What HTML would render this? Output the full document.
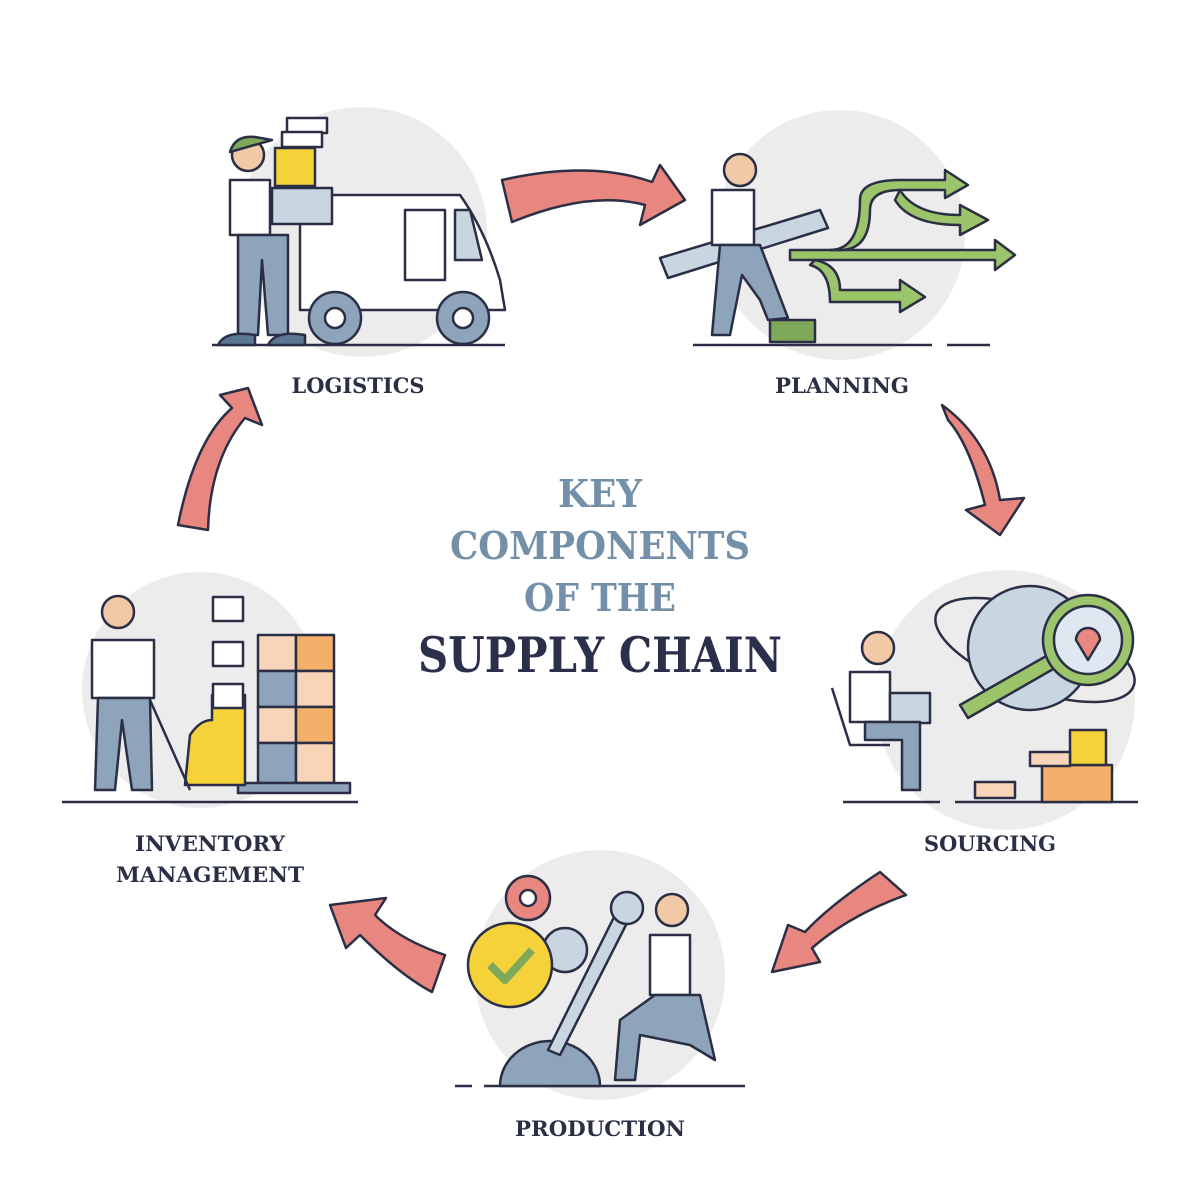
<!DOCTYPE html>
<html><head><meta charset="utf-8"><style>
html,body{margin:0;padding:0;background:#fff}
svg{display:block}
</style></head><body>
<svg width="1200" height="1200" viewBox="0 0 1200 1200" xmlns="http://www.w3.org/2000/svg" font-family="'DejaVu Serif','Liberation Serif',serif" font-weight="bold">
<rect width="1200" height="1200" fill="#fff"/>
<g fill="#ececec">
<circle cx="362" cy="232" r="125"/>
<circle cx="840" cy="235" r="125"/>
<circle cx="1005" cy="700" r="130"/>
<circle cx="600" cy="975" r="125"/>
<circle cx="200" cy="690" r="118"/>
</g>
<g fill="#e8877f" stroke="#2b2f45" stroke-width="2.5" stroke-linejoin="round">
<path d="M502,180 Q590,160 652,182 L660,165 L685,200 L640,225 L645,205 Q590,190 512,222 Z"/>
<path d="M942,405 Q990,440 1000,500 L1024,498 L1000,535 L966,510 L985,505 Q970,445 948,420 Z" />
<path d="M880,872 Q830,905 805,932 L788,925 L772,972 L820,962 L812,948 Q850,915 906,895 Z"/>
<path d="M445,955 Q400,940 375,915 L386,898 L330,905 L346,948 L360,935 Q400,975 432,992 Z"/>
<path d="M178,525 Q195,440 232,408 L220,395 L248,388 L262,425 L245,418 Q210,460 208,530 Z"/>
</g>
<g stroke="#2b2f45" stroke-width="2.5">
<line x1="212" y1="345" x2="505" y2="345"/>
<line x1="693" y1="345" x2="932" y2="345"/><line x1="947" y1="345" x2="990" y2="345"/>
<line x1="843" y1="802" x2="940" y2="802"/><line x1="955" y1="802" x2="1138" y2="802"/>
<line x1="455" y1="1086" x2="472" y2="1086"/><line x1="484" y1="1086" x2="745" y2="1086"/>
<line x1="62" y1="802" x2="358" y2="802"/>
</g>
<g stroke="#2b2f45" stroke-width="2.5" stroke-linejoin="round">
<path d="M300,310 L300,195 L460,195 Q485,230 500,280 L505,310 Z" fill="#fff"/>
<rect x="405" y="210" width="40" height="70" fill="#fff"/>
<path d="M455,210 L470,210 L482,260 L455,260 Z" fill="#c9d6e2"/>
<circle cx="335" cy="318" r="26" fill="#8ea4ba"/><circle cx="335" cy="318" r="10" fill="#fff"/>
<circle cx="463" cy="318" r="26" fill="#8ea4ba"/><circle cx="463" cy="318" r="10" fill="#fff"/>
<rect x="272" y="188" width="60" height="36" fill="#c9d6e2"/>
<rect x="275" y="148" width="40" height="38" fill="#f5d13a"/>
<rect x="287" y="118" width="40" height="15" fill="#fff"/>
<rect x="282" y="132" width="40" height="15" fill="#fff"/>
<circle cx="248" cy="155" r="16" fill="#f2c9a6"/>
<path d="M230,152 Q235,135 255,137 L272,140 Z" fill="#7ea85a"/>
<rect x="230" y="180" width="40" height="55" fill="#fff"/>
<path d="M238,235 L238,335 L258,335 L262,260 L268,335 L288,335 L288,235 Z" fill="#8ea4ba"/>
<path d="M218,345 Q225,330 255,335 L255,345 Z M268,345 Q275,330 305,335 L305,345 Z" fill="#5c7792"/>
</g>
<g stroke="#2b2f45" stroke-width="2.5" stroke-linejoin="round">
<path d="M790,250 L995,250 L995,240 L1015,255 L995,270 L995,260 L790,260 Z" fill="#9cc46a"/>
<path d="M830,250 Q860,250 860,200 Q860,180 900,180 L945,180 L945,170 L968,185 L945,198 L945,190 L900,190 Q870,190 870,210 Q870,250 840,250 Z" fill="#9cc46a"/>
<path d="M900,190 Q915,215 960,215 L960,205 L988,220 L960,235 L960,225 Q910,225 895,200 Z" fill="#9cc46a"/>
<path d="M815,260 Q840,265 840,290 L900,290 L900,280 L925,297 L900,312 L900,302 L830,302 Q830,270 810,265 Z" fill="#9cc46a"/>
<path d="M660,258 L820,210 L828,228 L668,278 Z" fill="#c9d6e2"/>
<circle cx="740" cy="170" r="16" fill="#f2c9a6"/>
<rect x="712" y="190" width="42" height="55" fill="#fff"/>
<path d="M720,245 L712,335 L730,335 L742,275 L760,300 L768,320 L788,318 L760,245 Z" fill="#8ea4ba"/>
<rect x="770" y="320" width="45" height="22" fill="#7ea85a"/>
</g>
<g stroke="#2b2f45" stroke-width="2.5" stroke-linejoin="round">
<ellipse cx="1035" cy="650" rx="105" ry="40" fill="none" transform="rotate(20 1035 650)"/>
<circle cx="1030" cy="648" r="62" fill="#c9d6e2"/>
<path d="M960,705 L1048,655 L1055,668 L968,718 Z" fill="#9cc46a"/>
<circle cx="1088" cy="640" r="45" fill="#9cc46a"/><circle cx="1088" cy="640" r="34" fill="#dfe8f0"/>
<path d="M1088,660 L1076,640 A12,12 0 1 1 1100,640 Z" fill="#e8877f"/>
<rect x="1042" y="765" width="70" height="37" fill="#f3b06a"/>
<rect x="1070" y="730" width="36" height="35" fill="#f5d13a"/>
<rect x="1030" y="752" width="40" height="14" fill="#f8d4b8"/>
<rect x="975" y="782" width="40" height="16" fill="#f8d4b8"/>
<circle cx="878" cy="648" r="16" fill="#f2c9a6"/>
<path d="M832,688 L850,745 L890,745" fill="none"/>
<rect x="850" y="672" width="40" height="50" fill="#fff"/>
<rect x="890" y="693" width="40" height="30" fill="#c9d6e2"/>
<path d="M865,722 L920,722 L920,790 L902,790 L902,740 L865,740 Z" fill="#8ea4ba"/>
</g>
<g stroke="#2b2f45" stroke-width="2.5" stroke-linejoin="round">
<circle cx="528" cy="898" r="22" fill="#e8877f"/><circle cx="528" cy="898" r="8" fill="#fff"/>
<circle cx="565" cy="950" r="22" fill="#c9d6e2"/>
<circle cx="510" cy="965" r="42" fill="#f5d13a"/>
<path d="M490,965 L505,980 L532,950" fill="none" stroke="#7ea85a" stroke-width="8"/>
<path d="M500,1086 A50,45 0 0 1 600,1086 Z" fill="#8ea4ba"/>
<path d="M548,1050 L615,915 L628,921 L560,1055 Z" fill="#c9d6e2"/>
<circle cx="627" cy="908" r="16" fill="#c9d6e2"/>
<circle cx="672" cy="910" r="16" fill="#f2c9a6"/>
<rect x="650" y="935" width="40" height="60" fill="#fff"/>
<path d="M655,995 L620,1020 L615,1080 L635,1080 L640,1035 L690,1045 L715,1060 L700,995 Z" fill="#8ea4ba"/>
</g>
<g stroke="#2b2f45" stroke-width="2.5" stroke-linejoin="round">
<rect x="258" y="635" width="38" height="36" fill="#f8d4b8"/><rect x="296" y="635" width="38" height="36" fill="#f3b06a"/>
<rect x="258" y="671" width="38" height="36" fill="#8ea4ba"/><rect x="296" y="671" width="38" height="36" fill="#f8d4b8"/>
<rect x="258" y="707" width="38" height="36" fill="#f8d4b8"/><rect x="296" y="707" width="38" height="36" fill="#f3b06a"/>
<rect x="258" y="743" width="38" height="40" fill="#8ea4ba"/><rect x="296" y="743" width="38" height="40" fill="#f8d4b8"/>
<rect x="238" y="783" width="112" height="10" fill="#8ea4ba"/>
<path d="M185,785 L190,735 Q200,720 212,720 L212,695 L245,695 L245,785 Z" fill="#f5d13a"/>
<path d="M150,700 L190,790" fill="none"/>
<rect x="213" y="597" width="30" height="24" fill="#fff"/><rect x="213" y="642" width="30" height="24" fill="#fff"/><rect x="213" y="684" width="30" height="24" fill="#fff"/>
<circle cx="118" cy="612" r="16" fill="#f2c9a6"/>
<rect x="92" y="640" width="62" height="58" fill="#fff"/>
<path d="M98,698 L95,790 L115,790 L122,720 L132,790 L152,790 L150,698 Z" fill="#8ea4ba"/>
</g>
<g fill="#2b2f45" font-size="21" text-anchor="middle">
<text x="358" y="393" textLength="133" lengthAdjust="spacingAndGlyphs">LOGISTICS</text>
<text x="842" y="393" textLength="134" lengthAdjust="spacingAndGlyphs">PLANNING</text>
<text x="990" y="851" textLength="132" lengthAdjust="spacingAndGlyphs">SOURCING</text>
<text x="600" y="1136" textLength="170" lengthAdjust="spacingAndGlyphs">PRODUCTION</text>
<text x="210" y="851" textLength="150" lengthAdjust="spacingAndGlyphs">INVENTORY</text>
<text x="210" y="882" textLength="188" lengthAdjust="spacingAndGlyphs">MANAGEMENT</text>
</g>
<g fill="#7390a8" font-size="38" text-anchor="middle">
<text x="600" y="507" textLength="84" lengthAdjust="spacingAndGlyphs">KEY</text>
<text x="600" y="559" textLength="300" lengthAdjust="spacingAndGlyphs">COMPONENTS</text>
<text x="600" y="611" textLength="152" lengthAdjust="spacingAndGlyphs">OF THE</text>
</g>
<text x="600" y="672" fill="#2b2f4c" font-size="49" text-anchor="middle" textLength="364" lengthAdjust="spacingAndGlyphs">SUPPLY CHAIN</text>
</svg>
</body></html>
